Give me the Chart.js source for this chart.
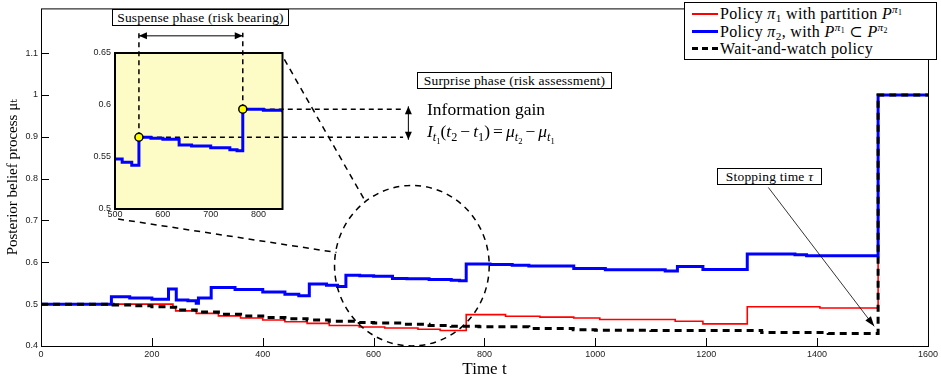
<!DOCTYPE html>
<html lang="en">
<head>
  <meta charset="UTF-8" />
  <title>Posterior belief process</title>
  <style>
    * { margin: 0; padding: 0; box-sizing: border-box; }
    body { background: #fff; }
    .wrap {
      position: relative;
      width: 941px;
      height: 380px;
      font-family: 'Liberation Serif', 'DejaVu Serif', serif;
      color: #000;
    }
    .wrap canvas { position: absolute; left: 0; top: 0; }
    #inset { pointer-events: none; }
    .kotak {
      position: absolute;
      border: 1px solid #000;
      background: #fff;
      font-size: 13.5px;
      letter-spacing: 0.2px;
      line-height: 15px;
      text-align: center;
      white-space: nowrap;
    }
    .gain {
      position: absolute;
      left: 427px;
      top: 98px;
      font-size: 17.5px;
      line-height: 22px;
      white-space: nowrap;
    }
    .gain .op { padding: 0 3px; }
    sub, sup { font-size: 70%; line-height: 0; }
    sub { vertical-align: -0.3em; }
    sup { vertical-align: 0.55em; }
    #legend {
      position: absolute;
      left: 684px;
      top: 2px;
      width: 253px;
      height: 58px;
      border: 1px solid #000;
      background: #fff;
      font-size: 16px;
      letter-spacing: 0.35px;
      padding-top: 2px;
    }
    #legend .row { display: flex; align-items: center; height: 17.5px; white-space: nowrap; }
    #legend .swatch { width: 26px; margin: 0 2px 0 7px; }
  </style>
</head>
<body>
  <div class="wrap">
    <canvas id="utama" width="941" height="380"></canvas>
    <canvas id="inset" width="941" height="380"></canvas>

    <div class="kotak" style="left:112px; top:9px; width:177px; height:17px;">Suspense phase (risk bearing)</div>
    <div class="kotak" style="left:417px; top:72px; width:195px; height:17px;">Surprise phase (risk assessment)</div>
    <div class="kotak" style="left:717px; top:168px; width:105px; height:17px;">Stopping time <i>τ</i></div>
    <div class="gain">
      Information gain<br>
      <i>I</i><sub><i>t</i><sub>1</sub></sub>(<i>t</i><sub>2</sub><span class="op">−</span><i>t</i><sub>1</sub>)<span class="op">=</span><i>μ</i><sub><i>t</i><sub>2</sub></sub><span class="op">−</span><i>μ</i><sub><i>t</i><sub>1</sub></sub>
    </div>
    <div id="legend"></div>
  </div>

  <script src="https://cdn.jsdelivr.net/npm/chart.js"></script>
  <script>
    // --- data (time t, belief mu) ; each value holds from its t until the next t
    const redT  = [0, 233, 238, 243, 280, 320, 360, 400, 440, 480, 520, 574, 620, 680, 720, 767, 838, 900, 961, 1008, 1144, 1194, 1274, 1405, 1510, 1600];
    const redMu = [0.500, 0.500, 0.492, 0.484, 0.478, 0.472, 0.467, 0.462, 0.458, 0.454, 0.449, 0.4455, 0.443, 0.440, 0.437, 0.475, 0.471, 0.469, 0.467, 0.4635, 0.459, 0.453, 0.494, 0.491, 1.0, 1.0];

    const blueT  = [0, 127, 160, 200, 230, 244, 265, 280, 284, 307, 350, 400, 440, 465, 484, 515, 535, 550, 575, 600, 634, 660, 700, 740, 755, 767, 810, 850, 880, 961, 1018, 1126, 1148, 1194, 1274, 1360, 1381, 1510, 1600];
    const blueMu = [0.500, 0.518, 0.515, 0.512, 0.536, 0.510, 0.508, 0.502, 0.515, 0.540, 0.535, 0.529, 0.524, 0.520, 0.548, 0.545, 0.542, 0.569, 0.568, 0.567, 0.5615, 0.5605, 0.559, 0.557, 0.556, 0.596, 0.595, 0.593, 0.591, 0.585, 0.582, 0.579, 0.590, 0.583, 0.620, 0.618, 0.616, 1.0, 1.0];

    const waitT  = [0, 130, 170, 200, 230, 243, 280, 320, 360, 400, 440, 480, 520, 574, 600, 650, 700, 740, 790, 880, 960, 1000, 1100, 1300, 1420, 1510, 1600];
    const waitMu = [0.500, 0.498, 0.496, 0.494, 0.4925, 0.486, 0.481, 0.476, 0.472, 0.468, 0.465, 0.462, 0.459, 0.456, 0.455, 0.452, 0.449, 0.447, 0.446, 0.442, 0.439, 0.4375, 0.437, 0.432, 0.430, 1.0, 1.0];

    // the two highlighted instants in the zoomed window
    const markT  = [550, 767];
    const markMu = [0.569, 0.596];

    const tickX = [0, 200, 400, 600, 800, 1000, 1200, 1400, 1600];
    const tickY = [0.4, 0.5, 0.6, 0.7, 0.8, 0.9, 1.0, 1.1];
    const insetTickX = [500, 600, 700, 800];
    const insetTickY = [0.5, 0.55, 0.6, 0.65];

    const legendLabel = [
      'Policy <i>π</i><sub>1</sub> with partition <i>P</i><sup><i>π</i><sub>1</sub></sup>',
      'Policy <i>π</i><sub>2</sub>, with <i>P</i><sup><i>π</i><sub>1</sub></sup> ⊂ <i>P</i><sup><i>π</i><sub>2</sub></sup>',
      'Wait-and-watch policy'
    ];

    // annotation anchors, in data units
    const zoomCircle = { t: 669, mu: 0.592, rt: 139.5, rmu: 0.1918 };
    const connectors = [[439, 1.085, 586, 0.7435], [139, 0.7035, 533, 0.6235]];
    const stopArrow = [1312, 0.779, 1503, 0.447];
    const insetGuide = { topMu: 0.6695, arrowMu: 0.6665, rightT: 1102, gainT: 1113, gainTop: 0.5987, gainBottom: 0.5666 };

    const titik = (ts, ms) => ts.map((t, i) => ({ x: t, y: ms[i] }));
    const angka = (v) => String(+Number(v).toFixed(3));
    const fontTick = { family: "'Liberation Sans', Arial, sans-serif", size: 9 };

    function kepalaPanah(ctx, x1, y1, x2, y2, len, lebar) {
      const a = Math.atan2(y2 - y1, x2 - x1);
      ctx.beginPath();
      ctx.moveTo(x2, y2);
      ctx.lineTo(x2 - len * Math.cos(a) + lebar * Math.sin(a), y2 - len * Math.sin(a) - lebar * Math.cos(a));
      ctx.lineTo(x2 - len * Math.cos(a) - lebar * Math.sin(a), y2 - len * Math.sin(a) + lebar * Math.cos(a));
      ctx.closePath();
      ctx.fill();
    }

    // frame + inward ticks (matlab look)
    const bingkai = {
      id: 'bingkai',
      afterDraw(chart) {
        const { ctx, chartArea: a, scales: { x, y } } = chart;
        ctx.save();
        ctx.strokeStyle = '#000';
        ctx.lineWidth = 1;
        ctx.strokeRect(a.left + 0.5, a.top + 0.5, a.right - a.left, a.bottom - a.top);
        ctx.beginPath();
        tickX.forEach(v => {
          const px = Math.round(x.getPixelForValue(v)) + 0.5;
          ctx.moveTo(px, a.bottom);
          ctx.lineTo(px, a.bottom - 8);
        });
        tickY.forEach(v => {
          const py = Math.round(y.getPixelForValue(v)) + 0.5;
          ctx.moveTo(a.left, py);
          ctx.lineTo(a.left + 8, py);
        });
        ctx.stroke();
        ctx.restore();
      }
    };

    const anotasi = {
      id: 'anotasi',
      afterDatasetsDraw(chart) {
        const { ctx, scales: { x, y } } = chart;
        ctx.save();
        ctx.strokeStyle = '#000';
        ctx.fillStyle = '#000';
        ctx.lineWidth = 1.5;
        ctx.setLineDash([6, 5]);
        const cx = x.getPixelForValue(zoomCircle.t), cy = y.getPixelForValue(zoomCircle.mu);
        const rx = x.getPixelForValue(zoomCircle.t + zoomCircle.rt) - cx;
        const ry = cy - y.getPixelForValue(zoomCircle.mu + zoomCircle.rmu);
        ctx.beginPath();
        ctx.ellipse(cx, cy, rx, ry, 0, 0, Math.PI * 2);
        ctx.stroke();
        connectors.forEach(c => {
          ctx.beginPath();
          ctx.moveTo(x.getPixelForValue(c[0]), y.getPixelForValue(c[1]));
          ctx.lineTo(x.getPixelForValue(c[2]), y.getPixelForValue(c[3]));
          ctx.stroke();
        });
        ctx.setLineDash([]);
        ctx.lineWidth = 0.8;
        const x1 = x.getPixelForValue(stopArrow[0]), y1 = y.getPixelForValue(stopArrow[1]);
        const x2 = x.getPixelForValue(stopArrow[2]), y2 = y.getPixelForValue(stopArrow[3]);
        ctx.beginPath();
        ctx.moveTo(x1, y1);
        ctx.lineTo(x2, y2);
        ctx.stroke();
        kepalaPanah(ctx, x1, y1, x2, y2, 10, 3.5);
        ctx.restore();
      }
    };

    const garis = { pointRadius: 0, stepped: true, fill: false };

    const chart = new Chart(document.getElementById('utama'), {
      type: 'line',
      data: {
        datasets: [
          { ...garis, label: 'Policy π1', data: titik(redT, redMu), borderColor: '#ff0000', borderWidth: 1.6, order: 3 },
          { ...garis, label: 'Policy π2', data: titik(blueT, blueMu), borderColor: '#0000ff', borderWidth: 3, order: 2 },
          { ...garis, label: 'Wait-and-watch policy', data: titik(waitT, waitMu), borderColor: '#000000', borderWidth: 3, borderDash: [7, 5], order: 1 }
        ]
      },
      options: {
        responsive: false,
        animation: false,
        events: [],
        layout: { padding: { left: 0, right: 11, top: 3, bottom: 0 } },
        plugins: { legend: { display: false }, tooltip: { enabled: false } },
        scales: {
          x: {
            type: 'linear',
            min: 0,
            max: 1600,
            afterBuildTicks: s => { s.ticks = tickX.map(v => ({ value: v })); },
            afterFit: s => { s.height = 34; },
            grid: { display: false, drawTicks: false },
            border: { display: false },
            ticks: { padding: 3, font: fontTick, color: '#222', maxRotation: 0, autoSkip: false, callback: angka },
            title: { display: true, text: 'Time t', color: '#000', padding: { top: 0, bottom: 0 },
                     font: { family: "'Liberation Serif', 'DejaVu Serif', serif", size: 17 } }
          },
          y: {
            type: 'linear',
            min: 0.4,
            max: 1.207,
            afterBuildTicks: s => { s.ticks = tickY.map(v => ({ value: v })); },
            afterFit: s => { s.width = 41; },
            grid: { display: false, drawTicks: false },
            border: { display: false },
            ticks: { padding: 3, font: fontTick, color: '#222', autoSkip: false, callback: angka },
            title: { display: true, text: 'Posterior belief process μₜ', color: '#000', padding: { top: 4, bottom: 0 },
                     font: { family: "'Liberation Serif', 'DejaVu Serif', serif", size: 15 } }
          }
        }
      },
      plugins: [bingkai, anotasi]
    });

    // legend in html so the sub/superscripts survive
    const swatch = [
      'height:2px; background:#ff0000',
      'height:3px; background:#0000ff',
      'height:3px; background:repeating-linear-gradient(to right,#000 0 6px,transparent 6px 10px)'
    ];
    document.getElementById('legend').innerHTML = chart.data.datasets.map((d, i) =>
      '<div class="row"><span class="swatch" style="' + swatch[i] + '"></span><span>' + legendLabel[i] + '</span></div>'
    ).join('');

    // zoomed window
    const hiasInset = {
      id: 'hiasInset',
      beforeDraw(c) {
        const { ctx, chartArea: a } = c;
        ctx.save();
        ctx.fillStyle = '#fefcc6';
        ctx.fillRect(a.left, a.top, a.right - a.left, a.bottom - a.top);
        ctx.restore();
      },
      beforeDatasetsDraw(c) {
        const { ctx, scales: { x, y } } = c;
        ctx.save();
        ctx.strokeStyle = '#000';
        ctx.lineWidth = 1.5;
        ctx.setLineDash([5, 4]);
        markT.forEach((t, i) => {
          const px = x.getPixelForValue(t), py = y.getPixelForValue(markMu[i]);
          ctx.beginPath();
          ctx.moveTo(px, py);
          ctx.lineTo(px, y.getPixelForValue(insetGuide.topMu));
          ctx.moveTo(px, py);
          ctx.lineTo(x.getPixelForValue(insetGuide.rightT), py);
          ctx.stroke();
        });
        ctx.restore();
      },
      afterDraw(c) {
        const { ctx, chartArea: a, scales: { x, y } } = c;
        ctx.save();
        ctx.strokeStyle = '#000';
        ctx.fillStyle = '#000';
        ctx.lineWidth = 2;
        ctx.strokeRect(a.left, a.top, a.right - a.left, a.bottom - a.top);
        ctx.lineWidth = 1;
        const ay = y.getPixelForValue(insetGuide.arrowMu);
        const ax1 = x.getPixelForValue(markT[0]), ax2 = x.getPixelForValue(markT[1]);
        ctx.beginPath();
        ctx.moveTo(ax1, ay);
        ctx.lineTo(ax2, ay);
        ctx.stroke();
        kepalaPanah(ctx, ax2, ay, ax1, ay, 8, 3.5);
        kepalaPanah(ctx, ax1, ay, ax2, ay, 8, 3.5);
        const gx = x.getPixelForValue(insetGuide.gainT);
        const gy1 = y.getPixelForValue(insetGuide.gainTop), gy2 = y.getPixelForValue(insetGuide.gainBottom);
        ctx.beginPath();
        ctx.moveTo(gx, gy1);
        ctx.lineTo(gx, gy2);
        ctx.stroke();
        kepalaPanah(ctx, gx, gy2, gx, gy1, 8, 3.5);
        kepalaPanah(ctx, gx, gy1, gx, gy2, 8, 3.5);
        ctx.restore();
      }
    };

    new Chart(document.getElementById('inset'), {
      type: 'line',
      data: {
        datasets: [
          { type: 'scatter', data: titik(markT, markMu), showLine: false, pointRadius: 4,
            pointBackgroundColor: '#ffff00', pointBorderColor: '#000', pointBorderWidth: 1.5, clip: false, order: 0 },
          { ...garis, data: titik(blueT, blueMu), borderColor: '#0000ff', borderWidth: 3, order: 1 }
        ]
      },
      options: {
        responsive: false,
        animation: false,
        events: [],
        layout: { padding: { left: 85, right: 658.5, top: 53, bottom: 157 } },
        plugins: { legend: { display: false }, tooltip: { enabled: false } },
        scales: {
          x: {
            type: 'linear',
            min: 500,
            max: 850,
            afterBuildTicks: s => { s.ticks = insetTickX.map(v => ({ value: v })); },
            afterFit: s => { s.height = 14; },
            grid: { display: false, drawTicks: false },
            border: { display: false },
            ticks: { padding: 0, font: fontTick, color: '#222', maxRotation: 0, autoSkip: false, callback: angka }
          },
          y: {
            type: 'linear',
            min: 0.5,
            max: 0.65,
            afterBuildTicks: s => { s.ticks = insetTickY.map(v => ({ value: v })); },
            afterFit: s => { s.width = 30; },
            grid: { display: false, drawTicks: false },
            border: { display: false },
            ticks: { padding: 4, font: fontTick, color: '#222', autoSkip: false, callback: angka }
          }
        }
      },
      plugins: [hiasInset]
    });
  </script>
</body>
</html>
